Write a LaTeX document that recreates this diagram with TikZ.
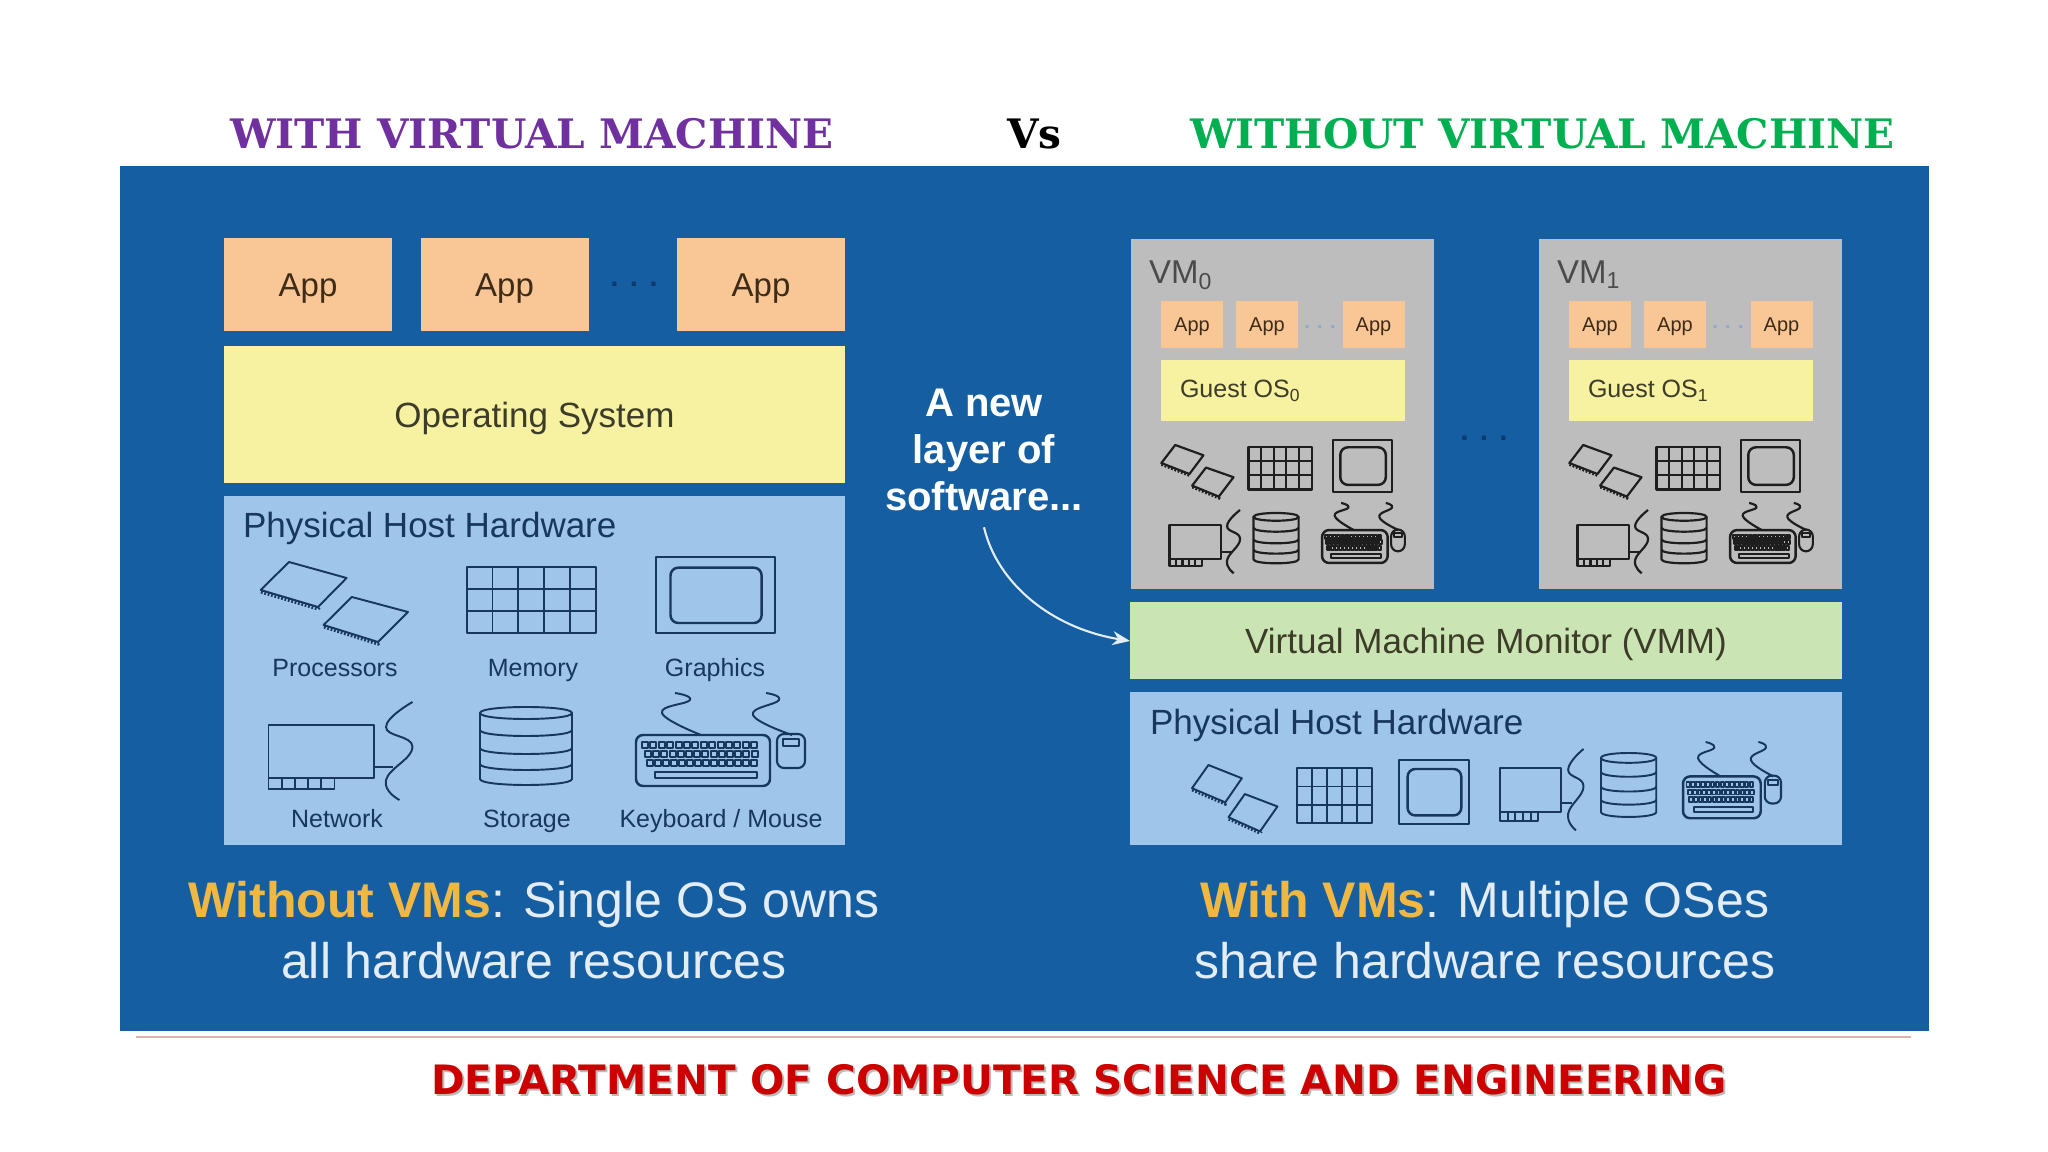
\documentclass[tikz,border=0pt]{standalone}
\usepackage{xcolor}
\usepackage{fontspec}
\setmainfont{Liberation Sans}
\newfontfamily\titlefont{DejaVu Serif}
\newfontfamily\footfont{DejaVu Sans}
\usetikzlibrary{arrows.meta}
\definecolor{panelBlue}{HTML}{155EA2}
\definecolor{appOrange}{HTML}{F9C796}
\definecolor{osYellow}{HTML}{F7F1A2}
\definecolor{hostBlue}{HTML}{A0C5EA}
\definecolor{vmGray}{HTML}{BDBDBD}
\definecolor{vmmGreen}{HTML}{CBE4B4}
\definecolor{inkNavy}{HTML}{17375C}
\definecolor{inkBlack}{HTML}{1E1E1E}
\definecolor{inkBrown}{HTML}{3E2C18}
\definecolor{inkOlive}{HTML}{3C3C28}
\definecolor{dotsBlue}{HTML}{0F3A70}
\definecolor{dotsLight}{HTML}{8FA8CC}
\definecolor{goldMain}{HTML}{F0B843}
\definecolor{paleWhite}{HTML}{E4ECF4}
\definecolor{titlePurple}{HTML}{7030A0}
\definecolor{titleGreen}{HTML}{00B050}
\definecolor{footRed}{HTML}{CC0000}
\definecolor{footShade}{HTML}{BBBBBB}
\definecolor{ruleRose}{HTML}{DDB0B0}
\newcommand{\pxfont}[1]{\fontsize{\fpeval{#1*0.2845}}{\fpeval{#1*0.3}}\selectfont}

\begin{document}
\begin{tikzpicture}[x=0.1mm,y=-0.1mm]

        \tikzset{
            boxnode/.style={inner sep=0pt, outer sep=0pt},
            iconline/.style={line width=0.55pt, line join=round},
            bigapp/.style={boxnode, fill=appOrange, text=inkBrown, text depth=0pt, minimum width=16.8mm, minimum height=9.3mm, font=\pxfont{33}},
            smallapp/.style={boxnode, fill=appOrange, text=inkBrown, text depth=0pt, minimum width=6.2mm, minimum height=4.7mm, font=\pxfont{20}},
            plaintext/.style={inner sep=0pt, outer sep=0pt},
            hosttext/.style={plaintext, anchor=base west, text=inkNavy, font=\pxfont{35}},
            hwlabel/.style={plaintext, anchor=base, text=inkNavy, font=\pxfont{25}},
            caption/.style={plaintext, anchor=base, text=paleWhite, font=\pxfont{50}},
            titletext/.style={plaintext, anchor=base west, font=\titlefont\bfseries\pxfont{40.6}},
            foottext/.style={plaintext, anchor=base west, font=\footfont\bfseries\pxfont{40.5}},
            dotsnode/.style={plaintext, anchor=base, font=\bfseries\pxfont{30}},
            smallicons/.style={color=inkBlack, iconline/.append style={line width=0.62pt}}
        }

        \newcommand{\ChipIcon}[4]{
            \begin{scope}[shift={(#1,#2)},xscale=#3,yscale=#4]
            \draw[iconline] (0.7,28) -- (29,0) -- (86.6,16) -- (58,45) -- cycle;
            \draw[iconline] (63.6,63) -- (91.8,35) -- (148,50) -- (118,80) -- cycle;
            \draw[line width=0.9pt, dash pattern=on 0.5pt off 0.5pt] (1,30) -- (58,47) -- (60,45);
            \draw[line width=0.9pt, dash pattern=on 0.5pt off 0.5pt] (64,65) -- (118,82) -- (120,80);
            \end{scope}
        }

        \newcommand{\MemoryIcon}[4]{
            \begin{scope}[shift={(#1,#2)},xscale=#3,yscale=#4]
            \draw[iconline] (0,0) rectangle (129,66);
            \foreach \col in {1,...,4} \draw[iconline] (\col*25.8,0) -- (\col*25.8,66);
            \foreach \row in {1,2} \draw[iconline] (0,\row*22) -- (129,\row*22);
            \end{scope}
        }

        \newcommand{\GraphicsIcon}[4]{
            \begin{scope}[shift={(#1,#2)},xscale=#3,yscale=#4]
            \draw[iconline] (0,0) rectangle (118.6,76);
            \draw[iconline, line width=0.7pt, rounded corners=2.2pt] (14.5,10.7) rectangle (105.6,66);
            \end{scope}
        }

        \newcommand{\NetworkIcon}[4]{
            \begin{scope}[shift={(#1,#2)},xscale=#3,yscale=#4]
            \draw[iconline] (0,23) rectangle (105.8,76);
            \draw[iconline] (0,76) rectangle (66,87);
            \foreach \col in {1,...,4} \draw[iconline] (\col*13.2,76) -- (\col*13.2,87);
            \draw[iconline] (105.8,65) -- (124.5,65);
            \draw[iconline] plot[smooth, tension=0.8] coordinates {(144,0) (117.5,25) (144,45) (117.5,78) (131,98)};
            \end{scope}
        }

        \newcommand{\StorageIcon}[4]{
            \begin{scope}[shift={(#1,#2)},xscale=#3,yscale=#4]
            \draw[iconline] (0,6) .. controls (0,-2) and (92,-2) .. (92,6) .. controls (92,14) and (0,14) .. (0,6) -- cycle;
            \draw[iconline] (0,6) -- (0,72) .. controls (0,80) and (92,80) .. (92,72) -- (92,6);
            \foreach \yband in {23,41,57} \draw[iconline] (0,\yband) .. controls (0,\yband+8) and (92,\yband+8) .. (92,\yband);
            \end{scope}
        }

        \newcommand{\KeyboardIcon}[4]{
            \begin{scope}[shift={(#1,#2)},xscale=#3,yscale=#4]
            \draw[iconline, line width=0.7pt, rounded corners=2pt] (0,42) rectangle (134,93);
            \foreach \col in {0,...,13} {
                \draw[iconline] (6+\col*8.4,49) rectangle ++(6,6);
                \draw[iconline] (9+\col*8.2,58) rectangle ++(6,6);
                \draw[iconline] (11+\col*8,67) rectangle ++(6,6);
            }
            \draw[iconline] (19,79) rectangle (121,85);
            \draw[iconline, line width=0.6pt, rounded corners=2pt] (141,41) rectangle (169,75);
            \draw[iconline] (147,46) rectangle (163,53);
            \draw[iconline] plot[smooth, tension=0.8] coordinates {(39,0) (54,7) (26,20) (65,42)};
            \draw[iconline] plot[smooth, tension=0.8] coordinates {(130,0) (143,7) (117,22) (156,42)};
            \end{scope}
        }

        \useasboundingbox (0,0) rectangle (2048,1152);
        \fill[white] (0,0) rectangle (2048,1152);

        % titles
        \node[titletext, text=titlePurple] (titleWith) at (230,149) {WITH VIRTUAL MACHINE};
        \node[titletext] (titleVs) at (1007,149) {Vs};
        \node[titletext, text=titleGreen] (titleWithout) at (1190,149) {WITHOUT VIRTUAL MACHINE};

        \fill[panelBlue] (120,166) rectangle (1929,1031);

        % left stack
        \node[bigapp] (app1) at (308,285) {App};
        \node[bigapp] (app2) at (504.5,285) {App};
        \node[bigapp] (app3) at (761,285) {App};
        \node[dotsnode, text=dotsBlue] (appDots) at (634,287) {. . .};
        \node[boxnode, fill=osYellow, text=inkOlive, text depth=0pt, minimum width=62.1mm, minimum height=13.7mm, font=\pxfont{35}] (os) at (534.5,414.5) {Operating System};
        \node[boxnode, fill=hostBlue, minimum width=62.1mm, minimum height=34.9mm] (hostLeft) at (534.5,670.5) {};
        \node[hosttext] (hostLeftText) at (243,538) {Physical Host Hardware};

        \begin{scope}[color=inkNavy]
            \ChipIcon{260}{562}{1}{1}
            \MemoryIcon{466.7}{566.7}{1}{1}
            \GraphicsIcon{656}{557}{1}{1}
            \NetworkIcon{268.5}{702}{1}{1}
            \StorageIcon{480}{707}{1}{1}
            \KeyboardIcon{636}{693}{1}{1}
        \end{scope}

        \node[hwlabel] (lblProc) at (335,677) {Processors};
        \node[hwlabel] (lblMem) at (533,677) {Memory};
        \node[hwlabel] (lblGfx) at (715,677) {Graphics};
        \node[hwlabel] (lblNet) at (337,828) {Network};
        \node[hwlabel] (lblStore) at (527,828) {Storage};
        \node[hwlabel] (lblKeys) at (721,828) {Keyboard / Mouse};

        % virtual machines
        \foreach \vx/\vi in {0/0,408/1} {
            \node[boxnode, fill=vmGray, minimum width=30.3mm, minimum height=35mm] (vm\vi) at (1282+\vx,414) {};
            \node[plaintext, anchor=base west, text=inkBlack!80, font=\pxfont{33}] (vmName\vi) at (1149+\vx,284) {VM\textsubscript{\vi}};
            \node[smallapp] (vmApp\vi a) at (1192+\vx,325) {App};
            \node[smallapp] (vmApp\vi b) at (1267+\vx,325) {App};
            \node[smallapp] (vmApp\vi c) at (1373.5+\vx,325) {App};
            \node[dotsnode, text=dotsLight, font=\bfseries\pxfont{20}] (vmDots\vi) at (1320+\vx,329) {. . .};
            \node[boxnode, fill=osYellow, minimum width=24.4mm, minimum height=6.1mm] (guest\vi) at (1283+\vx,391) {};
            \node[plaintext, anchor=base west, text=inkOlive, font=\pxfont{25}] (guestText\vi) at (1180+\vx,398) {Guest OS\textsubscript{\vi}};
            \begin{scope}[smallicons]
                \ChipIcon{1161+\vx}{445}{0.49}{0.645}
                \MemoryIcon{1248.4+\vx}{447}{0.49}{0.645}
                \GraphicsIcon{1333+\vx}{440}{0.5}{0.68}
                \NetworkIcon{1169.5+\vx}{510}{0.49}{0.645}
                \StorageIcon{1253.5+\vx}{513}{0.49}{0.645}
                \KeyboardIcon{1322+\vx}{503}{0.49}{0.645}
            \end{scope}
        }
        \node[dotsnode, text=dotsBlue] (vmGapDots) at (1484,441) {. . .};

        % monitor and host
        \node[boxnode, fill=vmmGreen, text=inkOlive, text depth=0pt, minimum width=71.2mm, minimum height=7.7mm, font=\pxfont{35}] (vmm) at (1486,641) {Virtual Machine Monitor (VMM)};
        \node[boxnode, fill=hostBlue, minimum width=71.2mm, minimum height=15.3mm] (hostRight) at (1486,769) {};
        \node[hosttext] (hostRightText) at (1150,735) {Physical Host Hardware};

        \begin{scope}[color=inkNavy]
            \ChipIcon{1191.6}{765}{0.58}{0.83}
            \MemoryIcon{1297}{768}{0.58}{0.84}
            \GraphicsIcon{1399}{760}{0.59}{0.84}
            \NetworkIcon{1500}{749}{0.58}{0.83}
            \StorageIcon{1601}{753}{0.6}{0.82}
            \KeyboardIcon{1683}{742}{0.58}{0.82}
        \end{scope}

        % note and arrow
        \node[plaintext, align=center, anchor=north, text=white, font=\bfseries\pxfont{40}] (note) at (984,388.5) {A new\\[1.5pt]layer of\\[1.5pt]software...};
        \draw[-{Stealth[length=5pt,width=4pt]}, line width=0.6pt, color=paleWhite] ([yshift=-1.6mm]note.south) .. controls (997,583) and (1051,628) .. (vmm.west);

        % captions
        \node[caption] (capLeftA) at (534,918) {\textcolor{goldMain}{\bfseries Without VMs}: Single OS owns};
        \node[caption] (capLeftB) at (534,979) {all hardware resources};
        \node[caption] (capRightA) at (1485,918) {\textcolor{goldMain}{\bfseries With VMs}: Multiple OSes};
        \node[caption] (capRightB) at (1485,979) {share hardware resources};

        % footer
        \draw[ruleRose, line width=0.45pt] (136,1037) -- (1911,1037);
        \node[foottext, text=footShade] (footShadow) at (433,1097) {DEPARTMENT OF COMPUTER SCIENCE AND ENGINEERING};
        \node[foottext, text=footRed] (foot) at (431,1095) {DEPARTMENT OF COMPUTER SCIENCE AND ENGINEERING};

\end{tikzpicture}
\end{document}
